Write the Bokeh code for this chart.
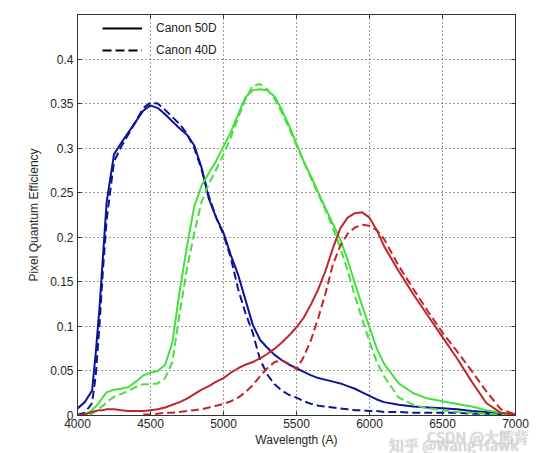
from bokeh.plotting import figure
from bokeh.models import (FixedTicker, CustomJSTickFormatter, Legend, LegendItem,
                          LinearAxis, Div)
from bokeh.layouts import column
from bokeh.embed import file_html
from bokeh.resources import INLINE

nan = float("nan")

# ---------------- data ----------------
wavelength = [4000, 4050, 4100, 4125, 4150, 4175, 4200, 4250, 4300, 4350, 4400, 4450,
              4500, 4550, 4600, 4650, 4700, 4750, 4800, 4850, 4900, 4950, 5000, 5050,
              5100, 5150, 5200, 5250, 5300, 5350, 5400, 5450, 5500, 5550, 5600, 5650,
              5700, 5750, 5800, 5850, 5900, 5950, 6000, 6050, 6100, 6200, 6300, 6400,
              6500, 6600, 6700, 6800, 6900, 7000]

blue_50d = [0.008, 0.015, 0.028, 0.070, 0.120, 0.180, 0.240, 0.293, 0.306, 0.318, 0.330, 0.342,
            0.348, 0.345, 0.338, 0.330, 0.322, 0.315, 0.303, 0.278, 0.243, 0.222, 0.205, 0.180,
            0.158, 0.130, 0.102, 0.085, 0.076, 0.068, 0.062, 0.057, 0.053, 0.049, 0.045, 0.042,
            0.040, 0.038, 0.036, 0.033, 0.030, 0.026, 0.022, 0.018, 0.015, 0.012, 0.010, 0.009,
            0.008, 0.007, 0.005, 0.004, 0.002, 0.001]
blue_40d = [0.001, 0.003, 0.014, 0.045, 0.100, 0.165, 0.220, 0.285, 0.302, 0.316, 0.330, 0.345,
            0.351, 0.350, 0.343, 0.335, 0.327, 0.316, 0.300, 0.276, 0.246, 0.222, 0.203, 0.177,
            0.142, 0.115, 0.093, 0.063, 0.046, 0.035, 0.028, 0.023, 0.020, 0.016, 0.013, 0.011,
            0.010, 0.009, 0.008, 0.007, 0.006, 0.006, 0.005, 0.005, 0.004, 0.004, 0.003, 0.003,
            0.003, 0.003, 0.002, 0.002, 0.001, 0.000]
green_50d = [0.000, 0.001, 0.006, 0.010, 0.015, 0.021, 0.026, 0.029, 0.030, 0.032, 0.038, 0.045,
             0.048, 0.050, 0.057, 0.082, 0.140, 0.190, 0.235, 0.258, 0.272, 0.286, 0.302, 0.318,
             0.338, 0.357, 0.365, 0.366, 0.365, 0.358, 0.343, 0.325, 0.305, 0.285, 0.268, 0.250,
             0.232, 0.215, 0.197, 0.175, 0.148, 0.123, 0.099, 0.075, 0.058, 0.036, 0.025, 0.019,
             0.016, 0.013, 0.010, 0.006, 0.003, 0.000]
green_40d = [0.000, 0.000, 0.002, 0.005, 0.008, 0.011, 0.015, 0.021, 0.024, 0.028, 0.032, 0.035,
             0.035, 0.036, 0.042, 0.060, 0.115, 0.165, 0.205, 0.240, 0.260, 0.276, 0.293, 0.312,
             0.334, 0.355, 0.370, 0.372, 0.366, 0.355, 0.340, 0.322, 0.303, 0.284, 0.266, 0.248,
             0.230, 0.210, 0.188, 0.163, 0.134, 0.108, 0.083, 0.060, 0.044, 0.020, 0.012, 0.008,
             0.006, 0.004, 0.003, 0.002, 0.001, 0.000]
red_50d = [0.000, 0.001, 0.004, 0.005, 0.006, 0.006, 0.007, 0.007, 0.006, 0.005, 0.005, 0.005,
           0.006, 0.007, 0.009, 0.012, 0.015, 0.019, 0.024, 0.029, 0.033, 0.038, 0.042, 0.048,
           0.053, 0.057, 0.060, 0.064, 0.069, 0.075, 0.082, 0.090, 0.099, 0.110, 0.125, 0.142,
           0.163, 0.188, 0.210, 0.222, 0.227, 0.228, 0.222, 0.208, 0.190, 0.162, 0.136, 0.112,
           0.088, 0.064, 0.038, 0.014, 0.003, 0.001]
red_40d = [nan, nan, nan, nan, nan, nan, nan, nan, nan, nan, nan, 0.001,
           0.001, 0.002, 0.003, 0.003, 0.004, 0.005, 0.006, 0.007, 0.009, 0.011, 0.013, 0.016,
           0.020, 0.026, 0.034, 0.044, 0.053, 0.060, 0.062, 0.058, 0.052, 0.066, 0.085, 0.110,
           0.138, 0.170, 0.190, 0.204, 0.211, 0.214, 0.213, 0.208, 0.198, 0.168, 0.142, 0.117,
           0.093, 0.072, 0.050, 0.027, 0.007, 0.001]

x_ticks = [4000, 4500, 5000, 5500, 6000, 6500, 7000]
y_ticks = [0, 0.05, 0.1, 0.15, 0.2, 0.25, 0.3, 0.35, 0.4]
legend_labels = ["Canon 50D", "Canon 40D"]
watermark_csdn = "CSDN @大熊背"
watermark_zhihu = "知乎 @Wang Hawk"

# ---------------- figure ----------------
FONT = "Liberation Sans"
BLUE, GREEN, RED = "#0c1496", "#46e03e", "#c0262a"
DASH = "8 4"

p = figure(width=537, height=453, output_backend="svg", toolbar_location=None,
           x_range=(4000, 7000), y_range=(0, 0.45),
           min_border_left=77, min_border_right=22, min_border_top=14, min_border_bottom=38,
           background_fill_color="white", border_fill_color="white")

series = [(blue_50d, BLUE, "solid"), (blue_40d, BLUE, DASH),
          (green_50d, GREEN, "solid"), (green_40d, GREEN, DASH),
          (red_50d, RED, "solid"), (red_40d, RED, DASH)]
for ys, col, dash in series:
    p.line(wavelength, ys, line_color=col, line_width=2, line_dash=dash)

# axes
p.xaxis.ticker = FixedTicker(ticks=x_ticks)
p.yaxis.ticker = FixedTicker(ticks=y_ticks)
p.yaxis.formatter = CustomJSTickFormatter(code="return String(parseFloat(tick.toFixed(2)));")
p.xaxis.axis_label = "Wavelength (A)"
p.yaxis.axis_label = "Pixel Quantum Efficiency"
for ax in (p.xaxis, p.yaxis):
    ax.major_tick_in = 4
    ax.major_tick_out = 0
    ax.minor_tick_line_color = None
    ax.axis_line_color = "#333333"
    ax.major_tick_line_color = "#333333"
    ax.major_label_text_font = FONT
    ax.major_label_text_font_size = "12px"
    ax.major_label_text_color = "#262626"
    ax.axis_label_text_font = FONT
    ax.axis_label_text_font_size = "12px"
    ax.axis_label_text_font_style = "normal"
    ax.axis_label_text_color = "#262626"
p.xaxis.major_label_standoff = 3
p.xaxis.axis_label_standoff = 2
p.yaxis.major_label_standoff = 4
p.yaxis.axis_label_standoff = 6

# mirrored ticks on top/right
empty = CustomJSTickFormatter(code="return '';")
top_ax = LinearAxis(ticker=FixedTicker(ticks=x_ticks), formatter=empty, major_tick_in=4,
                    major_tick_out=0, minor_tick_line_color=None, major_label_standoff=0,
                    axis_line_color="#333333", major_tick_line_color="#333333")
right_ax = LinearAxis(ticker=FixedTicker(ticks=y_ticks), formatter=empty, major_tick_in=4,
                      major_tick_out=0, minor_tick_line_color=None, major_label_standoff=0,
                      axis_line_color="#333333", major_tick_line_color="#333333")
p.add_layout(top_ax, "above")
p.add_layout(right_ax, "right")

# grid
p.xgrid.ticker = FixedTicker(ticks=x_ticks)
p.ygrid.ticker = FixedTicker(ticks=y_ticks)
for g in (p.xgrid, p.ygrid):
    g.grid_line_color = "#333333"
    g.grid_line_dash = "1 3"
    g.grid_line_width = 1
p.outline_line_color = "#333333"

# legend (black key lines, no data of their own)
r50 = p.line(x=[nan, nan], y=[nan, nan], line_color="black", line_width=2)
r40 = p.line(x=[nan, nan], y=[nan, nan], line_color="black", line_width=2, line_dash="9 4")
legend = Legend(items=[LegendItem(label=legend_labels[0], renderers=[r50]),
                       LegendItem(label=legend_labels[1], renderers=[r40])],
                location=(25, 355), glyph_width=40, glyph_height=20, label_height=20,
                label_standoff=14, spacing=2, padding=0, margin=0,
                border_line_alpha=0, background_fill_alpha=0,
                label_text_font=FONT, label_text_font_size="12px", label_text_color="#222222")
p.add_layout(legend)

# watermark overlay (semi-transparent text over the bottom-right corner)
span_style = ("position:absolute;white-space:nowrap;font-family:'Noto Sans CJK SC';"
              "font-size:15px;line-height:15px;color:rgba(235,235,235,0.9);"
              "text-shadow:0 0 1px #8a8a8a;")
wm = Div(text=(f'<span style="{span_style}left:38px;top:0px">{watermark_csdn}</span>'
               f'<span style="{span_style}left:0px;top:8px">{watermark_zhihu}</span>'),
         styles={"position": "absolute", "left": "384px", "top": "424px",
                 "width": "150px", "height": "23px", "pointer-events": "none"})

layout = column(p, wm)
open("out.html", "w").write(file_html(layout, INLINE))
